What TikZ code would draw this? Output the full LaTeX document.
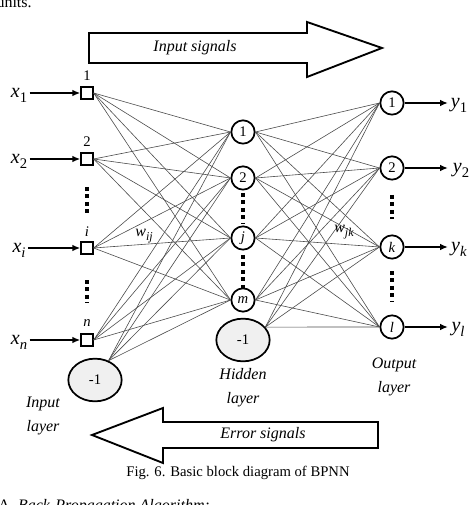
\documentclass[tikz,border=0pt]{standalone}
\usepackage{fontspec}
\setmainfont{Liberation Serif}
\usetikzlibrary{shapes.geometric,arrows.meta}

\newcommand\sublbl[3][15]{\fontsize{#1}{#1}\selectfont\textit{#2}\raisebox{-0.55ex}{\fontsize{11}{11}\selectfont #3}}

\tikzset{every picture/.style={line width=0.75pt}}
\tikzset{
  inbox/.style={draw,line width=1pt,minimum size=9pt,inner sep=0pt},
  neuron/.style={draw,circle,line width=1.3pt,minimum size=17.5pt,inner sep=0pt,font=\fontsize{11}{11}\selectfont},
  bias/.style={draw,ellipse,line width=1.3pt,fill=gray!12,minimum width=40pt,minimum height=32pt,inner sep=0pt,font=\fontsize{11}{11}\selectfont},
  wire/.style={line width=0.45pt,draw=black!70},
  feed/.style={line width=1.2pt,-{Latex[length=6pt,width=5pt]}},
  bigarrow/.style={line width=1.4pt,line join=miter},
  vdots/.style={line width=3pt,dash pattern=on 3pt off 2.6pt},
  tag/.style={inner sep=0pt,font=\fontsize{11}{11}\selectfont},
  layertxt/.style={inner sep=0pt,align=center,font=\itshape\fontsize{12}{18}\selectfont},
}

\begin{document}
\begin{tikzpicture}[x=0.75pt,y=0.75pt,yscale=-1]
	\useasboundingbox (0,0) rectangle (474,505);
	
	% Page text
	\draw (-4,8) node (pgtop) [anchor=base west,inner sep=0pt,font=\fontsize{12}{12}\selectfont] {units.};
	\draw (-2,510) node (pgbot) [anchor=base west,inner sep=0pt,font=\fontsize{12}{12}\selectfont] {A. \textit{Back-Propagation Algorithm:}};
	
	%Shape: Input signals arrow
	\draw [bigarrow] (89,33) -- (307,33) -- (307,22) -- (382,48) -- (307,77) -- (307,63) -- (89,63) -- cycle ;
	\draw (195,48) node (insig) [inner sep=0pt,font=\itshape\fontsize{12}{12}\selectfont] {Input signals};
	
	%Shape: Error signals arrow
	\draw [bigarrow] (92,435) -- (163,408) -- (163,422) -- (378,422) -- (378,448) -- (163,448) -- (163,463) -- cycle ;
	\draw (263,435) node (errsig) [inner sep=0pt,font=\itshape\fontsize{12}{12}\selectfont] {Error signals};
	
	% Input layer
	\draw (87,93) node (in1) [inbox] {};
	\draw (87,159) node (in2) [inbox] {};
	\draw (87,248) node (ini) [inbox] {};
	\draw (87,340) node (inn) [inbox] {};
	\draw (95,380) node (bin) [bias] {-1};
	\draw (87,76) node (t1) [tag] {1};
	\draw (87,142) node (t2) [tag] {2};
	\draw (87,232) node (ti) [tag] {\textit{i}};
	\draw (87,323) node (tn) [tag] {\textit{n}};
	\draw (43,416) node (inlbl) [layertxt] {Input\\layer};
	
	% Hidden layer
	\draw (243,132) node (h1) [neuron] {1};
	\draw (243,178) node (h2) [neuron] {2};
	\draw (243,238) node (hj) [neuron] {\textit{j}};
	\draw (243,300) node (hm) [neuron] {\textit{m}};
	\draw (243,340) node (bhid) [bias] {-1};
	\draw (243,388) node (hidlbl) [layertxt] {Hidden\\layer};
	
	% Output layer
	\draw (392,103) node (o1) [neuron] {1};
	\draw (392,168) node (o2) [neuron] {2};
	\draw (392,247) node (ok) [neuron] {\textit{k}};
	\draw (392,327) node (ol) [neuron] {\textit{l}};
	\draw (394,377) node (outlbl) [layertxt] {Output\\layer};
	
	% Inputs
	\draw (19,95) node (x1) [inner sep=0pt] {\sublbl{x}{1}};
	\draw (19,161) node (x2) [inner sep=0pt] {\sublbl{x}{2}};
	\draw (19,250) node (xi) [inner sep=0pt] {\sublbl{x}{\textit{i}}};
	\draw (19,342) node (xn) [inner sep=0pt] {\sublbl{x}{\textit{n}}};
	\foreach \x/\n in {x1/in1,x2/in2,xi/ini,xn/inn}
		\draw [feed] (\x.east) ++(2,-2) -- (\n.west);
	
	% Outputs
	\coordinate (e1) at (448,103);
	\coordinate (e2) at (448,168);
	\coordinate (ek) at (448,247);
	\coordinate (el) at (448,327);
	\foreach \o/\e in {o1/e1,o2/e2,ok/ek,ol/el}
		\draw [feed] (\o.east) -- (\e);
	\draw (459,105) node (y1) [inner sep=0pt] {\sublbl{y}{1}};
	\draw (461,170) node (y2) [inner sep=0pt] {\sublbl{y}{2}};
	\draw (459,249) node (yk) [inner sep=0pt] {\sublbl{y}{\textit{k}}};
	\draw (458,329) node (yl) [inner sep=0pt] {\sublbl{y}{\textit{l}}};
	
	% Weights
	\foreach \a in {in1.east,in2.east,ini.east,inn.east,bin.55}
		\foreach \b in {h1,h2,hj,hm}
			\draw [wire] (\a) -- (\b.west);
	\foreach \a in {h1.east,h2.east,hj.east,hm.east,bhid.30}
		\foreach \b in {o1,o2,ok,ol}
			\draw [wire] (\a) -- (\b.west);
	\draw (144,236) node (wij) [inner sep=0pt] {\sublbl[12]{w}{\fontsize{9}{9}\selectfont\textit{ij}}};
	\draw (344,232) node (wjk) [inner sep=0pt] {\sublbl[12]{w}{\fontsize{9}{9}\selectfont\textit{jk}}};
	
	% Dots
	\draw [vdots] (87,187) -- (87,213);
	\draw [vdots] (87,280) -- (87,303);
	\draw [vdots] (243,193) -- (243,224);
	\draw [vdots] (243,255) -- (243,289);
	\draw [vdots] (392,195) -- (392,219);
	\draw [vdots] (392,271) -- (392,301);
	
	% Caption
	\draw (238,473) node (cap) [inner sep=0pt,font=\fontsize{11}{11}\selectfont] {Fig. 6. Basic block diagram of BPNN};
	
\end{tikzpicture}
\end{document}
